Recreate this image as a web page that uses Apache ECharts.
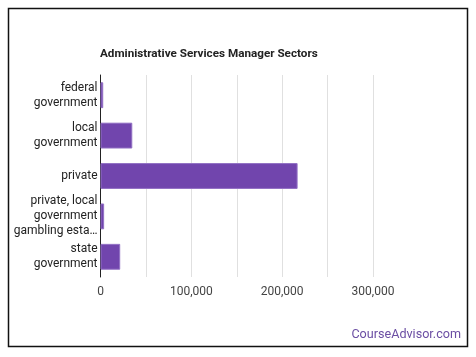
<!DOCTYPE html>
<html><head><meta charset="utf-8">
<script src="https://cdn.jsdelivr.net/npm/echarts@6/dist/echarts.min.js"></script>
<style>html,body{margin:0;padding:0;background:#fff}#c{width:476px;height:357px}</style>
</head><body><div id="c"></div>
<script>
const categories = ['federal\ngovernment', 'local\ngovernment', 'private', 'private, local\ngovernment\ngambling esta…', 'state\ngovernment'];
const values = [3000, 35000, 217000, 4000, 21700];
const tickLabels = ['0', '100,000', '200,000', '300,000'];

const chart = echarts.init(document.getElementById('c'));
chart.setOption({
  animation: false,
  textStyle: {fontFamily: 'Roboto'},
  title: {
    text: 'Administrative Services Manager Sectors',
    left: 95, top: 43,
    textStyle: {fontSize: 11.7, fontWeight: 'bold', color: '#222', fontFamily: 'Roboto'}
  },
  grid: {left: 100.5, right: 103, top: 75, bottom: 80, containLabel: false},
  xAxis: {
    type: 'value', min: 0, max: 300000, interval: 100000,
    axisLine: {show: false}, axisTick: {show: false},
    splitLine: {show: true, lineStyle: {color: '#e0e0e0', width: 1}},
    minorTick: {show: false, splitNumber: 2},
    minorSplitLine: {show: true, lineStyle: {color: '#e0e0e0', width: 1}},
    axisLabel: {
      color: '#444', fontSize: 12, margin: 9,
      formatter: v => tickLabels[Math.round(v / 100000)] ?? ''
    }
  },
  yAxis: {
    type: 'category', data: categories, inverse: true,
    axisLine: {show: true, lineStyle: {color: '#222', width: 1}},
    axisTick: {show: false},
    axisLabel: {color: '#222', fontSize: 12, lineHeight: 15, margin: 3, align: 'right'}
  },
  series: [{
    type: 'bar', data: values, barCategoryGap: '36%',
    itemStyle: {color: '#7145ad', borderColor: '#9270c4', borderWidth: 1}
  }],
  graphic: [
    {type: 'rect', shape: {x: 8.5, y: 8.5, width: 459, height: 338},
     style: {fill: 'none', stroke: '#111', lineWidth: 1.5}, silent: true},
    {type: 'text', right: 15, top: 328,
     style: {text: 'CourseAdvisor.com', fill: '#6b4ea3', fontSize: 12.6, fontFamily: 'Roboto'}}
  ]
});
</script></body></html>
